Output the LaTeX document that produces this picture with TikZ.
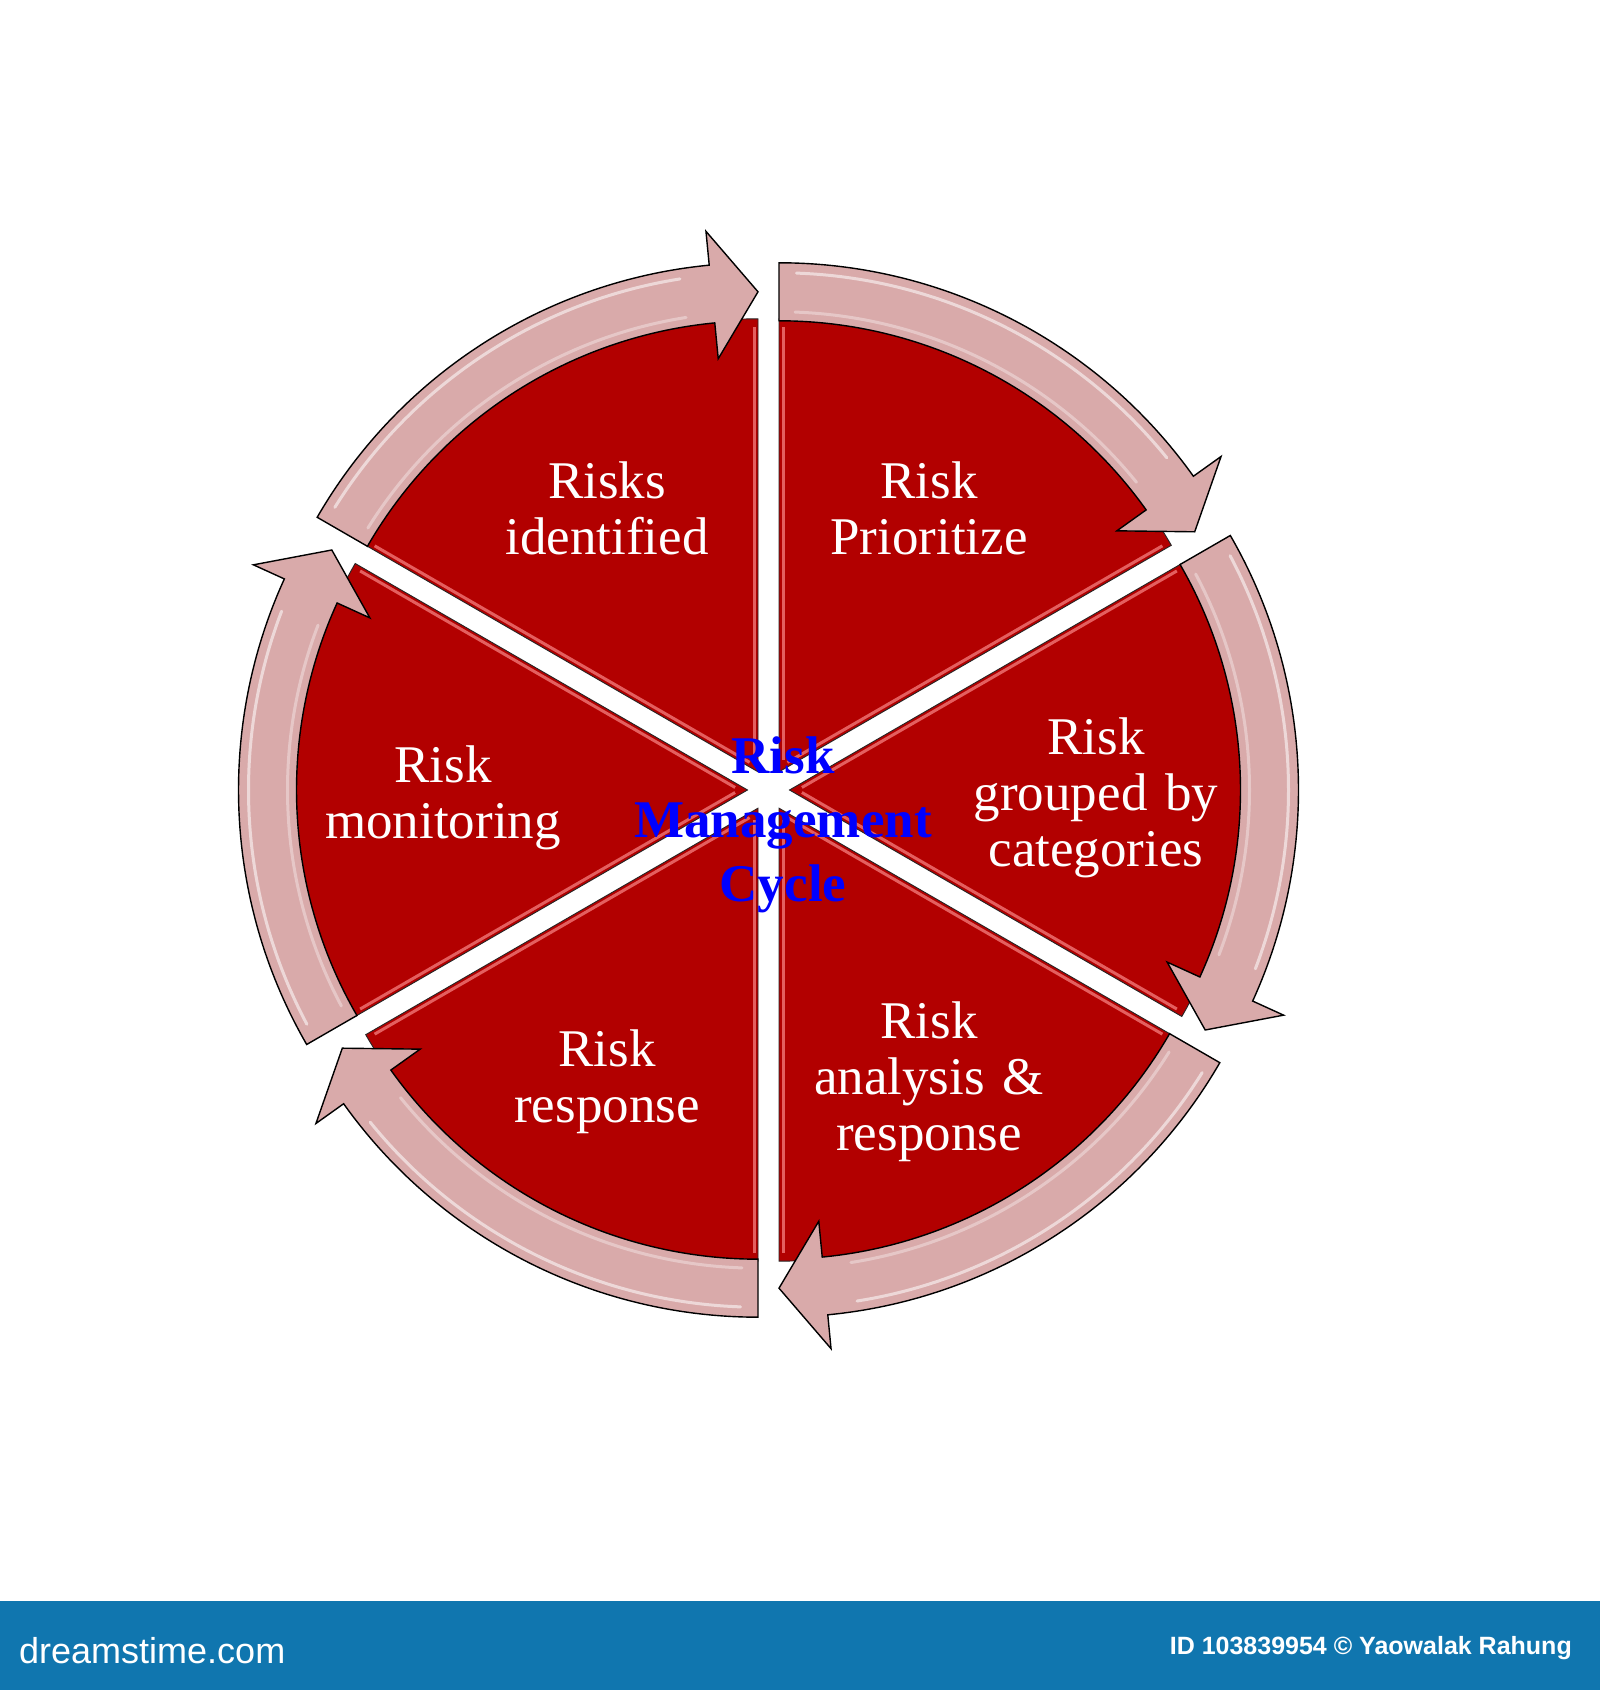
\documentclass[tikz,border=0pt]{standalone}
\usepackage{fontspec}
\setmainfont{Liberation Serif}
\newfontfamily\bannerfont{Liberation Sans}
\usetikzlibrary{calc}
\definecolor{wedgered}{RGB}{178,0,0}
\definecolor{bandpink}{RGB}{217,170,170}
\definecolor{edgehl}{RGB}{228,95,95}
\definecolor{bannerblue}{RGB}{16,118,175}
\definecolor{titleblue}{RGB}{0,0,255}
\newcommand\rmsector[1]{%
  \begin{scope}[shift={($(C)+(#1+30:21pt)$)}]
    \path[wedge] (0,0) -- (#1:453pt) arc[start angle=#1, end angle=#1+60, radius=453pt] -- cycle;
    \draw[edgeline] ($(#1:12pt)+(#1+90:4pt)$) -- ($(#1:445pt)+(#1+90:4pt)$);
    \draw[edgeline] ($(#1+60:12pt)+(#1-30:4pt)$) -- ($(#1+60:445pt)+(#1-30:4pt)$);
    \path[arrowband] (#1+60:509pt) arc[start angle=#1+60, end angle=#1+5.5, radius=509pt]
      -- (#1+5.5:543pt) -- (#1:480pt) -- (#1+5.5:415pt) -- (#1+5.5:451pt)
      arc[start angle=#1+5.5, end angle=#1+60, radius=451pt] -- cycle;
    \draw[gloss] (#1+58:499pt) arc[start angle=#1+58, end angle=#1+9, radius=499pt];
    \draw[gloss, opacity=0.35] (#1+58:460pt) arc[start angle=#1+58, end angle=#1+9, radius=460pt];
  \end{scope}}
\begin{document}
\begin{tikzpicture}[x=1pt,y=1pt,
  wedge/.style={fill=wedgered, draw=black!85, line width=0.9pt},
  edgeline/.style={draw=edgehl, line width=3pt},
  arrowband/.style={fill=bandpink, draw=black, line width=1.4pt, line join=miter},
  gloss/.style={draw=white, opacity=0.55, line width=3pt, line cap=round},
  lbl/.style={text=white, font=\fontsize{53}{56}\selectfont, align=center, text width=420pt, anchor=base, inner sep=0pt},
  title/.style={text=titleblue, font=\bfseries\fontsize{53}{64}\selectfont, align=center, text width=420pt, anchor=base, inner sep=0pt},
  bannertext/.style={text=white, inner sep=0pt, anchor=base},
]
\useasboundingbox (0,0) rectangle (1600,1690);
\fill[white] (0,0) rectangle (1600,1690);
\coordinate (C) at (768.5,900);
\rmsector{90}
\rmsector{30}
\rmsector{-30}
\rmsector{-90}
\rmsector{-150}
\rmsector{150}
\node[lbl] (identified) at (607,1191) {Risks\\identified};
\node[lbl] (prioritize) at (929,1191) {Risk\\Prioritize};
\node[lbl] (grouped) at (1096,935) {Risk\\grouped by\\categories};
\node[lbl] (analysis) at (929,651) {Risk\\analysis \&\\response};
\node[lbl] (response) at (607,623) {Risk\\response};
\node[lbl] (monitoring) at (443,907) {Risk\\monitoring};
\node[title] (centre) at (783,916) {Risk\\Management\\Cycle};
\fill[bannerblue] (0,0) rectangle (1600,89);
\node[bannertext, anchor=base west, font=\bannerfont\fontsize{36}{36}\selectfont] (logo) at (19,26) {dreamstime.com};
\node[bannertext, anchor=base east, font=\bannerfont\bfseries\fontsize{25}{25}\selectfont] (credit) at (1572,35) {ID 103839954 © Yaowalak Rahung};
\end{tikzpicture}
\end{document}
